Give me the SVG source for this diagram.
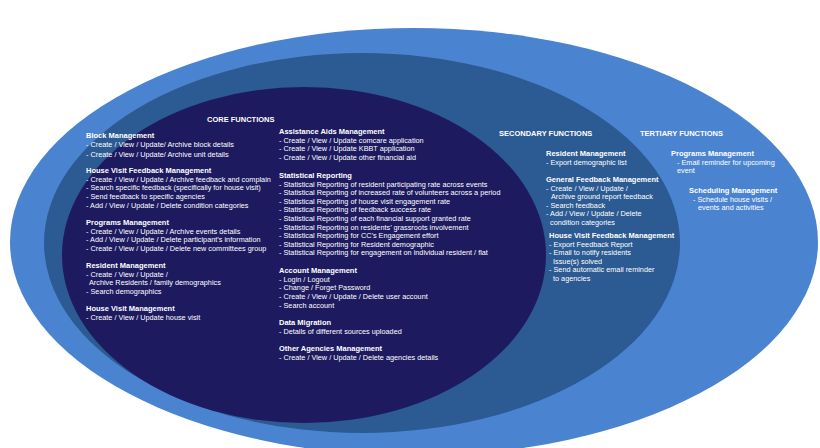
<svg xmlns="http://www.w3.org/2000/svg" width="820" height="448" viewBox="0 0 820 448">
<style>
text{font-family:"Liberation Sans",Arial,sans-serif;font-size:7.3px;fill:#fff}
.h{font-weight:bold;font-size:7.5px}
</style>
<rect width="820" height="448" fill="#fff"/>
<g id="tertiary"><ellipse cx="414" cy="242" rx="404" ry="214" fill="#4a84d0"/></g>
<g id="secondary"><ellipse cx="362" cy="243" rx="318" ry="190" fill="#2c5a92"/></g>
<g id="core"><ellipse cx="304" cy="255" rx="242" ry="168" fill="#1d1a60"/></g>
<g id="core-text">
<text class="h" x="207" y="122">CORE FUNCTIONS</text>
<text x="86" y="138"><tspan class="h">Block Management</tspan>
<tspan x="86" dy="9.3">- Create / View / Update/ Archive block details</tspan>
<tspan x="86" dy="9.3">- Create / View / Update/ Archive unit details</tspan></text>
<text x="86" y="173"><tspan class="h">House Visit Feedback Management</tspan>
<tspan x="86" dy="8.7">- Create / View / Update / Archive feedback and complain</tspan>
<tspan x="86" dy="8.7">- Search specific feedback (specifically for house visit)</tspan>
<tspan x="86" dy="8.7">- Send feedback to specific agencies</tspan>
<tspan x="86" dy="8.7">- Add / View / Update / Delete condition categories</tspan></text>
<text x="86" y="225"><tspan class="h">Programs Management</tspan>
<tspan x="86" dy="8.7">- Create / View / Update / Archive events details</tspan>
<tspan x="86" dy="8.7">- Add / View / Update / Delete participant’s information</tspan>
<tspan x="86" dy="8.7">- Create / View / Update / Delete new committees group</tspan></text>
<text x="86" y="268"><tspan class="h">Resident Management</tspan>
<tspan x="86" dy="8.7">- Create / View / Update /</tspan>
<tspan x="89" dy="8.7">Archive Residents / family demographics</tspan>
<tspan x="86" dy="8.7">- Search demographics</tspan></text>
<text x="86" y="311"><tspan class="h">House Visit Management</tspan>
<tspan x="86" dy="8.7">- Create / View / Update house visit</tspan></text>
<text x="279" y="134"><tspan class="h">Assistance Aids Management</tspan>
<tspan x="279" dy="8.7">- Create / View / Update comcare application</tspan>
<tspan x="279" dy="8.7">- Create / View / Update KBBT application</tspan>
<tspan x="279" dy="8.7">- Create / View / Update other financial aid</tspan></text>
<text x="279" y="178"><tspan class="h">Statistical  Reporting</tspan>
<tspan x="279" dy="8.6">- Statistical Reporting of resident participating rate across events</tspan>
<tspan x="279" dy="8.6">- Statistical Reporting of increased rate of volunteers across a period</tspan>
<tspan x="279" dy="8.6">- Statistical Reporting of house visit engagement rate</tspan>
<tspan x="279" dy="8.6">- Statistical Reporting of feedback success rate</tspan>
<tspan x="279" dy="8.6">- Statistical Reporting of each financial support granted rate</tspan>
<tspan x="279" dy="8.6">- Statistical Reporting on residents’ grassroots involvement</tspan>
<tspan x="279" dy="8.6">- Statistical Reporting for CC’s Engagement effort</tspan>
<tspan x="279" dy="8.6">- Statistical Reporting for Resident demographic</tspan>
<tspan x="279" dy="8.6">- Statistical Reporting for engagement on individual resident / flat</tspan></text>
<text x="279" y="273"><tspan class="h">Account Management</tspan>
<tspan x="279" dy="8.7">- Login / Logout</tspan>
<tspan x="279" dy="8.7">- Change / Forget Password</tspan>
<tspan x="279" dy="8.7">- Create / View / Update / Delete user account</tspan>
<tspan x="279" dy="8.7">- Search account</tspan></text>
<text x="279" y="325"><tspan class="h">Data Migration</tspan>
<tspan x="279" dy="8.7">- Details of different sources uploaded</tspan></text>
<text x="279" y="351"><tspan class="h">Other Agencies Management</tspan>
<tspan x="279" dy="8.7">- Create / View / Update / Delete agencies details</tspan></text>
</g>
<g id="secondary-text">
<text class="h" x="499" y="136">SECONDARY FUNCTIONS</text>
<text x="546" y="156"><tspan class="h">Resident Management</tspan>
<tspan x="546" dy="8.7">- Export demographic list</tspan></text>
<text x="546" y="182"><tspan class="h">General Feedback Management</tspan>
<tspan x="546" dy="8.6">- Create / View / Update /</tspan>
<tspan x="551" dy="8.6">Archive ground report feedback</tspan>
<tspan x="546" dy="8.6">- Search feedback</tspan>
<tspan x="546" dy="8.6">- Add / View / Update / Delete</tspan>
<tspan x="550" dy="8.6">condition categories</tspan></text>
<text x="549" y="238"><tspan class="h">House Visit Feedback Management</tspan>
<tspan x="549" dy="8.6">- Export Feedback Report</tspan>
<tspan x="549" dy="8.6">- Email to notify residents</tspan>
<tspan x="553" dy="8.6">Issue(s) solved</tspan>
<tspan x="549" dy="8.6">- Send automatic email reminder</tspan>
<tspan x="553" dy="8.6">to agencies</tspan></text>
</g>
<g id="tertiary-text">
<text class="h" x="640" y="136">TERTIARY FUNCTIONS</text>
<text x="671" y="156"><tspan class="h">Programs Management</tspan>
<tspan x="677" dy="8.7">- Email reminder for upcoming</tspan>
<tspan x="677" dy="8.7">event</tspan></text>
<text x="689" y="193"><tspan class="h">Scheduling Management</tspan>
<tspan x="693" dy="8.7">- Schedule house visits /</tspan>
<tspan x="698" dy="8.7">events and activities</tspan></text>
</g>
<g id="connectors"/>
</svg>
